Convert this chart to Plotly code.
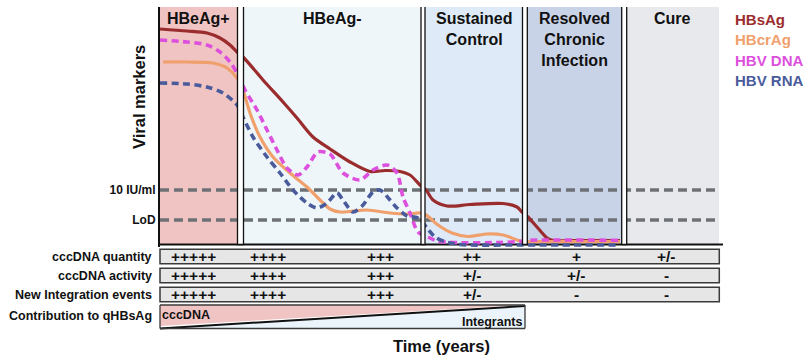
import plotly.graph_objects as go

# ---------------- data ----------------
phase_labels = ["HBeAg+", "HBeAg-", "Sustained<br>Control", "Resolved<br>Chronic<br>Infection", "Cure"]
phase_start = [0, 83.5, 265, 367.3, 466.7]
phase_end = [77.5, 261, 362.5, 461.7, 559]
phase_colors = ["#f1c4c4", "#eef6fa", "#deeaf7", "#c9d3e8", "#e8e9ec"]
separator_start = [77.5, 261, 362.5, 461.7]
separator_end = [83.5, 265, 367.3, 466.7]

ref_levels = [53, 23]
ref_labels = ["10 IU/ml", "LoD"]

series_names = ["HBsAg", "HBcrAg", "HBV DNA", "HBV RNA"]
series_colors = ["#9b2c2e", "#f0a06c", "#dd4fdd", "#4a5b9b"]

hbsag_x = [0, 27, 47, 60, 70, 77, 84, 103, 123, 137, 153, 170, 190, 210, 225, 237, 250, 260, 266, 273, 287, 310, 343, 357, 362, 368, 377, 387, 393, 420, 460]
hbsag_y = [214, 212, 210, 205, 198, 191, 185, 163, 141, 125, 106, 94, 81, 71.5, 72.5, 72, 68, 58, 53, 43, 37, 38.5, 39.5, 36, 31, 26, 16, 5, 2.5, 2.5, 2.5]

hbcrag_x = [3, 27, 53, 67, 77, 83, 90, 100, 113, 130, 147, 160, 170, 180, 190, 207, 230, 247, 260, 266, 278, 292, 308, 327, 343, 357, 362, 370, 460]
hbcrag_y = [181, 181, 180, 175, 165, 153, 130, 106, 86, 70, 56, 43, 34, 31, 31.5, 33, 30, 29, 30, 28, 18, 10, 6.5, 9, 8, 3, 1.3, 1.3, 1.3]

dna_x = [0, 27, 47, 60, 70, 77, 85, 97, 107, 117, 127, 138, 147, 158, 170, 183, 200, 213, 227, 237, 243, 250, 258, 268, 277, 293, 340, 360, 370, 460]
dna_y = [203, 201, 198, 191, 181, 170, 153, 133, 113, 93, 75, 68, 76, 91, 89, 70, 63, 73, 78, 70, 46, 30, 11, 6, 2, 0.5, 0.5, 1.5, 2.7, 2.7]

rna_x = [0, 27, 47, 63, 77, 83, 93, 107, 120, 133, 147, 157, 167, 177, 183, 193, 203, 213, 220, 230, 237, 247, 258, 267, 275, 285, 300, 360, 460]
rna_y = [160, 159, 156, 150, 138, 126, 106, 86, 70, 53, 40, 35, 40, 50, 43, 31, 38, 51, 53, 43, 35, 27, 25, 15, 6, 1.3, -1.5, -2, -2]

row_labels = ["cccDNA quantity", "cccDNA activity", "New Integration events"]
row_values = [
    ["+++++", "++++", "+++", "++", "+", "+/-"],
    ["+++++", "++++", "+++", "+/-", "+/-", "-"],
    ["+++++", "++++", "+++", "+/-", "-", "-"],
]
value_x = [33, 108, 220, 312, 416, 506]

contribution_label = "Contribution to qHBsAg"
contribution_left = "cccDNA"
contribution_right = "Integrants"

# ---------------- geometry helpers (figure pixels -> paper) ----------------
W, H = 807, 360
ML, MR, MT, MB = 160, 84, 7, 113
PW, PH = W - ML - MR, H - MT - MB
XMAX = 563


def px(p):
    return (p - ML) / PW


def py(p):
    return (H - MB - p) / PH


def dx(x):
    return x / XMAX


FONT = "Liberation Sans, Arial, sans-serif"

fig = go.Figure()

series = [
    (hbsag_x, hbsag_y, None, 3.2),
    (hbcrag_x, hbcrag_y, None, 3.2),
    (dna_x, dna_y, "7px,4.5px", 3.6),
    (rna_x, rna_y, "7px,4.5px", 3.6),
]
for (xs, ys, dash, w), name, col in zip(series, series_names, series_colors):
    fig.add_trace(go.Scatter(
        x=xs, y=ys, mode="lines", name=name,
        line=dict(color=col, width=w, dash=dash, shape="spline", smoothing=0.8),
        showlegend=False, hoverinfo="skip",
    ))

shapes = []
# phase backgrounds
for x0, x1, c in zip(phase_start, phase_end, phase_colors):
    shapes.append(dict(type="rect", xref="x", yref="y", x0=x0, x1=x1, y0=-1.5, y1=236,
                       fillcolor=c, line=dict(width=0), layer="below"))
# reference dashed lines
for lv in ref_levels:
    shapes.append(dict(type="line", xref="x", yref="y", x0=0, x1=559, y0=lv, y1=lv,
                       line=dict(color="#6d7175", width=3.5, dash="9px,5px"), layer="below"))
# x axis baseline
shapes.append(dict(type="line", xref="x", yref="y", x0=0, x1=XMAX, y0=-1.5, y1=-1.5,
                   line=dict(color="#111111", width=2), layer="below"))
# separators
for x0, x1 in zip(separator_start, separator_end):
    shapes.append(dict(type="rect", xref="x", yref="y", x0=x0, x1=x1, y0=-1.5, y1=237,
                       fillcolor="white", line=dict(color="#111111", width=1.3), layer="above"))

# table rows
row_tops = [249.3, 268.3, 287.3]
row_h = 14.5
for rt in row_tops:
    shapes.append(dict(type="rect", xref="paper", yref="paper",
                       x0=px(160), x1=px(719.3), y0=py(rt + row_h), y1=py(rt),
                       fillcolor="#e6e6e6", line=dict(color="#3a3a3a", width=1.5), layer="above"))

# contribution bar
cx0, cx1, cy0, cy1 = 160, 525, 305, 328.5
shapes.append(dict(type="rect", xref="paper", yref="paper", x0=px(cx0), x1=px(cx1),
                   y0=py(cy1), y1=py(cy0), fillcolor="white", line=dict(width=0), layer="above"))
shapes.append(dict(type="path", xref="paper", yref="paper",
                   path=f"M {px(cx0)},{py(cy0)} L {px(cx1)},{py(cy0)} L {px(cx0)},{py(cy1 - 2.5)} Z",
                   fillcolor="#f1c4c4", line=dict(width=0), layer="above"))
shapes.append(dict(type="path", xref="paper", yref="paper",
                   path=f"M {px(cx0)},{py(cy1)} L {px(cx1)},{py(cy0 + 1)} L {px(cx1)},{py(cy1)} Z",
                   fillcolor="#eaf4fa", line=dict(width=0), layer="above"))
shapes.append(dict(type="line", xref="paper", yref="paper", x0=px(cx0), x1=px(cx1),
                   y0=py(cy1), y1=py(cy0 + 1), line=dict(color="#111111", width=2), layer="above"))
shapes.append(dict(type="line", xref="paper", yref="paper", x0=px(cx0), x1=px(cx1),
                   y0=py(cy0), y1=py(cy0), line=dict(color="#3a3a3a", width=1.3), layer="above"))
shapes.append(dict(type="line", xref="paper", yref="paper", x0=px(cx0), x1=px(cx0),
                   y0=py(cy0), y1=py(cy1), line=dict(color="#3a3a3a", width=1.3), layer="above"))
shapes.append(dict(type="line", xref="paper", yref="paper", x0=px(cx1), x1=px(cx1),
                   y0=py(cy0), y1=py(cy1), line=dict(color="#3a3a3a", width=1.3), layer="above"))
shapes.append(dict(type="line", xref="paper", yref="paper", x0=px(cx0), x1=px(cx1),
                   y0=py(cy1), y1=py(cy1), line=dict(color="#3a3a3a", width=1.3), layer="above"))

annotations = []
# phase labels
for lab, x0, x1 in zip(phase_labels, phase_start, phase_end):
    annotations.append(dict(x=dx((x0 + x1) / 2), y=py(8), xref="paper", yref="paper",
                            text=f"<b>{lab}</b>", showarrow=False, xanchor="center", yanchor="top",
                            font=dict(family=FONT, size=16, color="#111111")))
# legend
leg_y = [19, 39.5, 60, 80.5]
for name, col, yy in zip(series_names, series_colors, leg_y):
    annotations.append(dict(x=px(733), y=py(yy), xref="paper", yref="paper",
                            text=f"<b>{name}</b>", showarrow=False, xanchor="left", yanchor="middle",
                            font=dict(family=FONT, size=15, color=col)))
# y title
annotations.append(dict(x=px(139), y=py(97), xref="paper", yref="paper",
                        text="<b>Viral markers</b>", showarrow=False, textangle=-90,
                        xanchor="center", yanchor="middle",
                        font=dict(family=FONT, size=16.5, color="#111111")))
# table labels & values
for lab, vals, rt in zip(row_labels, row_values, row_tops):
    yc = py(rt + row_h / 2)
    annotations.append(dict(x=px(154), y=yc, xref="paper", yref="paper", text=f"<b>{lab}</b>",
                            showarrow=False, xanchor="right", yanchor="middle",
                            font=dict(family=FONT, size=12.5, color="#111111")))
    for v, xv in zip(vals, value_x):
        annotations.append(dict(x=dx(xv), y=yc, xref="paper", yref="paper", text=f"<b>{v}</b>",
                                showarrow=False, xanchor="center", yanchor="middle",
                                font=dict(family=FONT, size=15.5, color="#111111")))
annotations.append(dict(x=px(154), y=py(316), xref="paper", yref="paper",
                        text=f"<b>{contribution_label}</b>", showarrow=False,
                        xanchor="right", yanchor="middle",
                        font=dict(family=FONT, size=12.5, color="#111111")))
annotations.append(dict(x=px(160), y=py(315), xref="paper", yref="paper",
                        text=f"<b>{contribution_left}</b>", showarrow=False,
                        xanchor="left", yanchor="middle",
                        font=dict(family=FONT, size=12.5, color="#111111")))
annotations.append(dict(x=px(524), y=py(321.5), xref="paper", yref="paper",
                        text=f"<b>{contribution_right}</b>", showarrow=False,
                        xanchor="right", yanchor="middle",
                        font=dict(family=FONT, size=12.5, color="#111111")))
annotations.append(dict(x=px(441.5), y=py(346), xref="paper", yref="paper",
                        text="<b>Time (years)</b>", showarrow=False,
                        xanchor="center", yanchor="middle",
                        font=dict(family=FONT, size=16.5, color="#111111")))

fig.update_layout(
    width=W, height=H,
    margin=dict(l=ML, r=MR, t=MT, b=MB, pad=0),
    paper_bgcolor="white", plot_bgcolor="white",
    shapes=shapes, annotations=annotations,
    xaxis=dict(range=[0, XMAX], showticklabels=False, showgrid=False, zeroline=False,
               showline=False, ticks=""),
    yaxis=dict(range=[-4, 236], showgrid=False, zeroline=False, showline=True,
               linecolor="#111111", linewidth=2, ticks="",
               tickvals=ref_levels, ticktext=[f"<b>{t}</b>" for t in ref_labels],
               tickfont=dict(family=FONT, size=12, color="#111111")),
    font=dict(family=FONT),
)

fig.write_html(
    "out.html",
    config={"displayModeBar": False},
    post_script="document.body.style.margin='0';document.body.style.overflow='hidden';",
)
